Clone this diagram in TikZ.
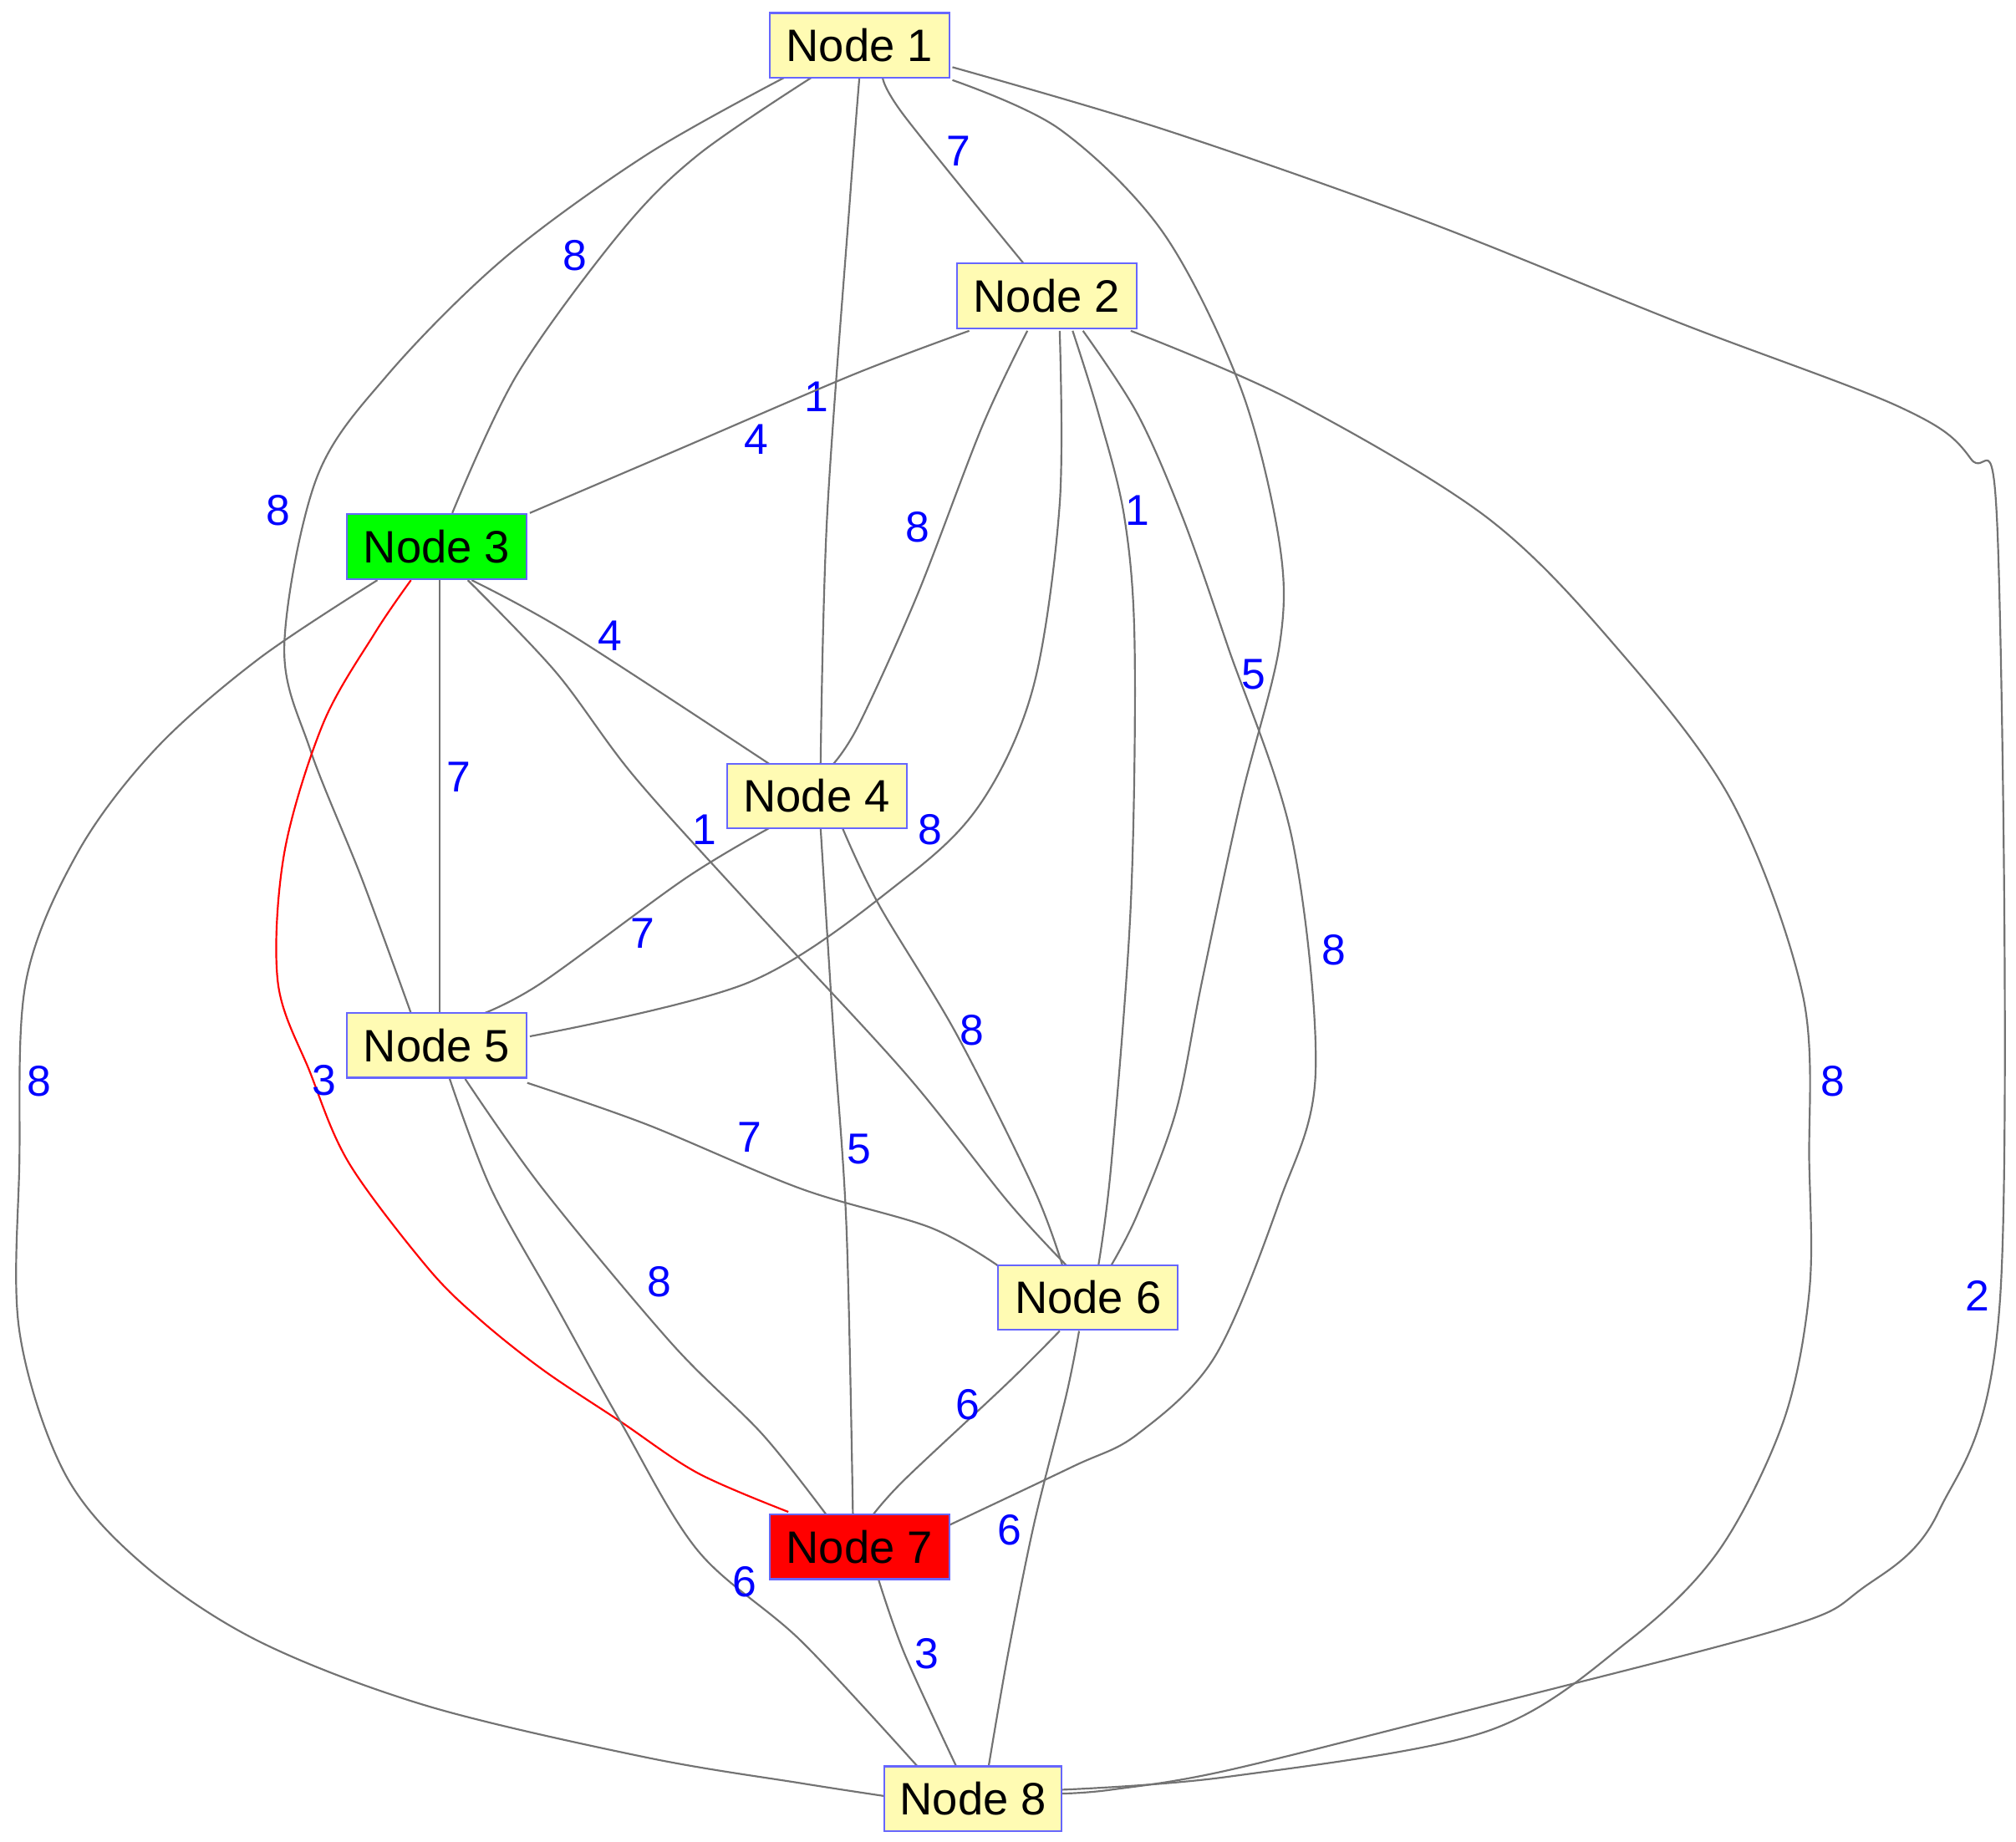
\documentclass[tikz,border=0pt]{standalone}
\usepackage{fontspec}
\setmainfont{Liberation Sans}
\begin{document}
\begin{tikzpicture}[x=0.01cm,y=-0.01cm,
  nd/.style={draw=blue!60,fill=yellow!30,minimum width=1.39cm,minimum height=0.5cm,inner sep=0pt,font=\fontsize{10}{12}\selectfont},
  ed/.style={draw=black!55,line width=0.4pt},
  lb/.style={text=blue,font=\fontsize{9.5}{12}\selectfont,inner sep=0pt}]
\useasboundingbox (0,0) rectangle (1560,1425);
\newcommand{\E}[4][ed]{\draw[#1] plot[smooth,tension=0.55] coordinates {#2}; \node[lb] at #3 {#4};}
\E{(607,60)(500,120)(390,200)(300,290)(245,370)(220,500)(240,580)(280,680)(318,784)}{(215,395)}{8}
\E{(628,60)(540,120)(480,180)(400,290)(350,397)}{(445,198)}{8}
\E{(665,60)(658,150)(640,400)(635,591)}{(632,307)}{1}
\E{(750,256)(660,290)(520,350)(410,397)}{(585,340)}{4}
\E{(683,60)(700,90)(793,205)}{(742,117)}{7}
\E{(737,62)(820,100)(900,180)(960,300)(990,420)(990,500)(960,620)(930,760)(910,860)(880,940)(860,979)}{(970,522)}{5}
\E{(737,52)(900,100)(1100,170)(1300,250)(1470,315)(1525,355)(1546,420)(1548,1000)(1500,1170)(1440,1230)(1380,1260)(1150,1320)(950,1370)(860,1385)(822,1388)}{(1530,1003)}{2}
\E{(795,256)(760,330)(710,460)(665,560)(645,591)}{(710,408)}{8}
\E{(820,256)(820,390)(800,530)(760,620)(700,680)(580,760)(410,802)}{(720,642)}{8}
\E{(830,256)(850,320)(870,400)(878,500)(875,700)(860,900)(850,979)}{(880,395)}{1}
\E{(838,256)(880,320)(915,400)(950,500)(1000,650)(1018,830)(990,930)(940,1050)(880,1110)(830,1135)(735,1180)}{(1032,735)}{8}
\E{(875,256)(1000,310)(1150,400)(1250,500)(1340,620)(1395,770)(1400,900)(1400,1000)(1380,1100)(1330,1200)(1260,1270)(1150,1340)(950,1375)(822,1385)}{(1418,837)}{8}
\E{(365,449)(440,490)(595,591)}{(472,492)}{4}
\E{(340,449)(340,784)}{(355,601)}{7}
\E{(362,449)(430,520)(490,600)(580,700)(700,830)(780,930)(825,979)}{(545,642)}{1}
\E[red,line width=0.4pt]{(318,449)(290,490)(250,560)(220,660)(215,760)(240,830)(270,900)(330,980)(370,1020)(420,1060)(480,1100)(540,1140)(610,1170)}{(251,836)}{3}
\E{(292,449)(200,510)(120,580)(60,660)(20,760)(15,900)(15,1030)(50,1140)(110,1210)(200,1270)(330,1320)(500,1360)(620,1380)(685,1390)}{(30,837)}{8}
\E{(595,641)(530,680)(420,760)(375,784)}{(497,722)}{7}
\E{(652,641)(680,700)(740,800)(800,920)(822,979)}{(752,797)}{8}
\E{(635,641)(645,800)(655,950)(660,1173)}{(665,889)}{5}
\E{(408,838)(500,870)(620,920)(720,950)(773,980)}{(580,880)}{7}
\E{(360,835)(420,920)(520,1040)(590,1110)(640,1173)}{(510,992)}{8}
\E{(348,835)(380,920)(430,1010)(480,1100)(540,1200)(620,1270)(710,1367)}{(576,1224)}{6}
\E{(820,1030)(780,1070)(700,1145)(675,1173)}{(749,1087)}{6}
\E{(835,1030)(825,1080)(800,1180)(780,1280)(765,1367)}{(781,1184)}{6}
\E{(680,1223)(700,1280)(740,1367)}{(717,1280)}{3}
\node[nd] (n1) at (665,35) {Node 1};
\node[nd] (n2) at (810,229) {Node 2};
\node[nd,fill=green] (n3) at (338,423) {Node 3};
\node[nd] (n4) at (632,616) {Node 4};
\node[nd] (n5) at (338,809) {Node 5};
\node[nd] (n6) at (842,1004) {Node 6};
\node[nd,fill=red] (n7) at (665,1197) {Node 7};
\node[nd,minimum width=1.37cm] (n8) at (753,1392) {Node 8};
\end{tikzpicture}
\end{document}
